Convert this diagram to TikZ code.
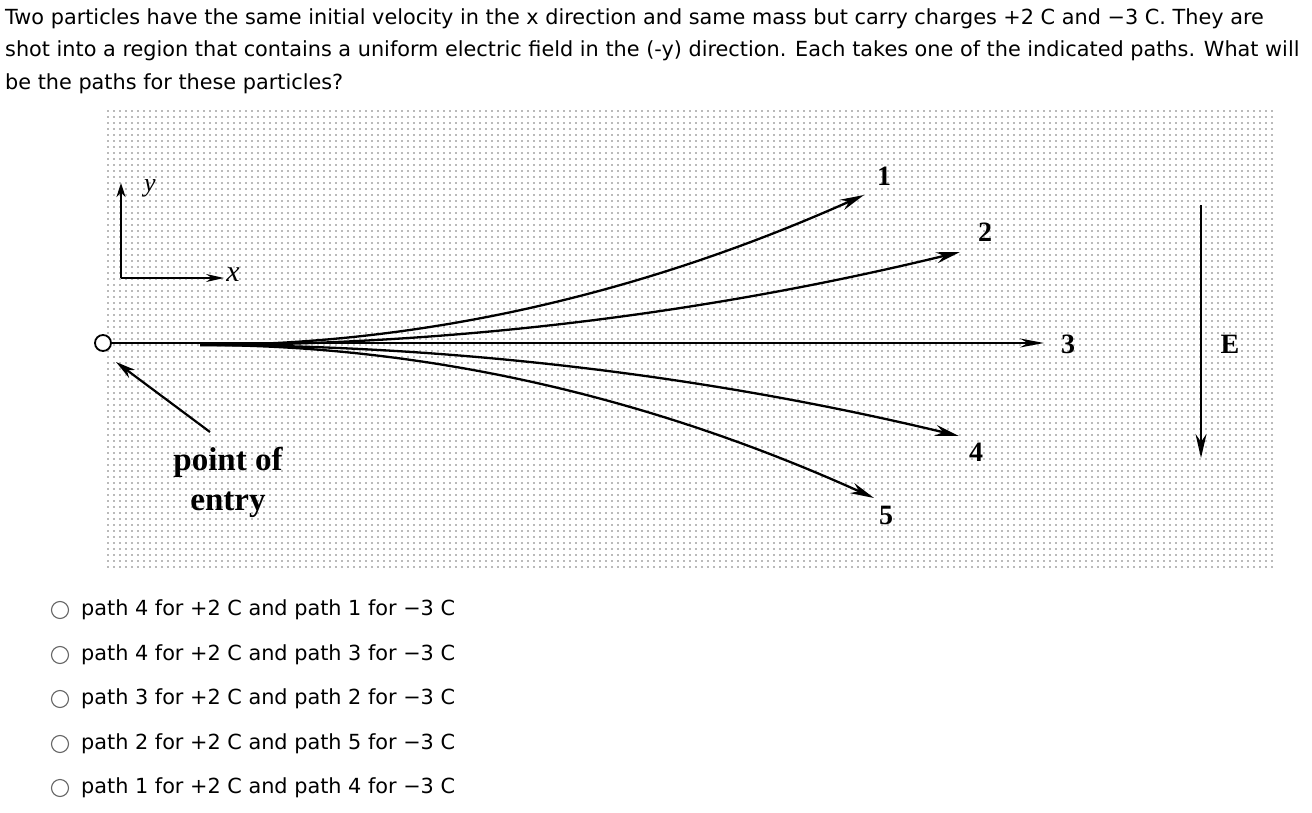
\documentclass[tikz,border=0pt]{standalone}
\usepackage{fontspec}
\setmainfont{DejaVu Sans}
\newfontfamily\serif{Liberation Serif}
\usetikzlibrary{arrows.meta,patterns.meta}
\begin{document}
\begin{tikzpicture}[x=1pt,y=-1pt,
  qtext/.style={anchor=base west,inner sep=0pt,font=\fontsize{20.8}{24}\selectfont},
  lbl/.style={font=\serif\bfseries\fontsize{28}{30}\selectfont,inner sep=0pt},
  path/.style={line width=2.3pt,-{Stealth[length=24pt,width=11pt]}},
  radio/.style={circle,draw=gray!80!black,line width=1.1pt,minimum size=17pt,inner sep=0pt}]
\useasboundingbox (0,0) rectangle (1312,813);
\node[qtext] (q1) at (5,25) {Two particles have the same initial velocity in the x direction and same mass but carry charges +2 C and −3 C. They are};
\node[qtext] (q2) at (5,57) {shot into a region that contains a uniform electric field in the (-y) direction. Each takes one of the indicated paths. What will};
\node[qtext] (q3) at (5,90) {be the paths for these particles?};
% dotted field region
\fill[pattern={Dots[distance=6pt,radius=0.9pt]},pattern color=black!55] (105,108) rectangle (1275,568);
% axes
\coordinate (ax) at (121,278);
\coordinate (ay) at (121,183);
\coordinate (axx) at (224,278);
\draw[line width=2pt,-{Stealth[length=14pt,width=9pt]}] (ax) -- (ay);
\draw[line width=2pt,-{Stealth[length=18pt,width=8pt]}] (ax) -- (axx);
\node[font=\serif\itshape\fontsize{26}{28}\selectfont,inner sep=0pt] (ylab) at (150,188) {y};
\node[font=\serif\itshape\fontsize{30}{32}\selectfont,inner sep=0pt] (xlab) at (233,275) {x};
% entry
\node[circle,draw,line width=1.8pt,minimum size=16pt,inner sep=0pt,fill=white] (O) at (103,343) {};
\coordinate (s) at (200,345);
\coordinate (e3) at (1044,343);
\draw[line width=1.8pt,-{Stealth[length=24pt,width=9pt]}] (O) -- (e3);
\node[lbl] (l3) at (1068,344) {3};
\coordinate (e1) at (864,195);
\coordinate (e2) at (960,252);
\coordinate (e4) at (959,436);
\coordinate (e5) at (874,498);
\draw[path] (s) .. controls (420,345) and (640,295) .. (e1);
\draw[path] (s) .. controls (452,345) and (705,314) .. (e2);
\draw[path] (s) .. controls (452,345) and (705,375) .. (e4);
\draw[path] (s) .. controls (424,345) and (648,396) .. (e5);
\node[lbl] (l1) at (884,176) {1};
\node[lbl] (l2) at (985,232) {2};
\node[lbl] (l4) at (976,452) {4};
\node[lbl] (l5) at (886,515) {5};
% E field
\coordinate (Et) at (1201,205);
\coordinate (Eb) at (1201,458);
\draw[line width=2pt,-{Stealth[length=24pt,width=11pt]}] (Et) -- (Eb);
\node[lbl] (El) at (1230,344) {E};
% point of entry
\node[font=\serif\bfseries\fontsize{33}{40}\selectfont,align=center,inner sep=0pt] (pe) at (228,482) {point of\\entry};
\coordinate (pa) at (210,432);
\coordinate (pb) at (116,362);
\draw[line width=2.2pt,-{Stealth[length=20pt,width=10pt]}] (pa) -- (pb);
% options
\foreach \y/\t [count=\i] in {610/{path 4 for +2 C and path 1 for −3 C},655/{path 4 for +2 C and path 3 for −3 C},699/{path 3 for +2 C and path 2 for −3 C},744/{path 2 for +2 C and path 5 for −3 C},788/{path 1 for +2 C and path 4 for −3 C}}{
  \node[radio] (r\i) at (60,\y) {};
  \node[anchor=west,inner sep=0pt,font=\fontsize{20.8}{24}\selectfont] (o\i) at (81,\y) {\t};
}
\end{tikzpicture}
\end{document}
